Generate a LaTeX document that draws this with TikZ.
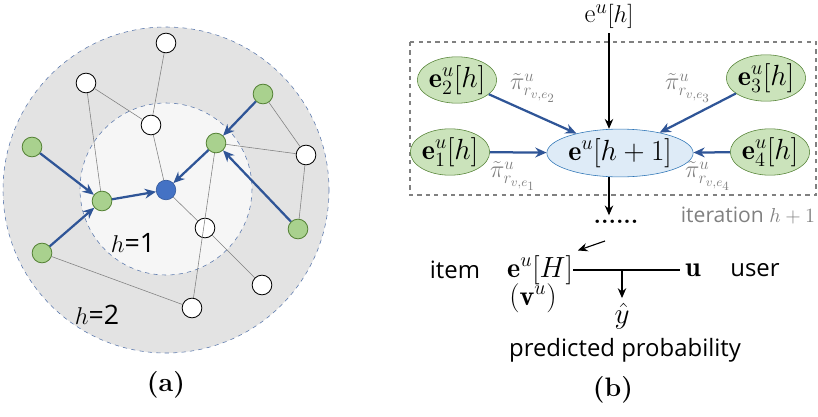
\documentclass[tikz,border=0pt]{standalone}
\usepackage{fontspec}
\usepackage{amsmath}
\newfontfamily\osans{Open Sans}
\usetikzlibrary{shapes.geometric,arrows.meta}
\definecolor{leafgreen}{RGB}{169,209,142}
\definecolor{leafedge}{RGB}{84,130,53}
\definecolor{hopblue}{RGB}{47,85,151}
\definecolor{rootblue}{RGB}{68,114,196}
\definecolor{centfill}{RGB}{222,235,247}
\definecolor{centedge}{RGB}{46,117,182}
\tikzset{
	ent/.style={circle,draw=black,fill=white,minimum size=14pt,inner sep=0pt,semithick},
	seed/.style={circle,draw=leafedge,fill=leafgreen,minimum size=14pt,inner sep=0pt,semithick},
	hop/.style={draw=hopblue,line width=1.6pt,-{Stealth[length=8pt,width=7pt]}},
	kg/.style={draw=gray,thin},
	emb/.style={ellipse,draw=leafedge,fill=leafgreen!60,minimum width=50pt,minimum height=33pt,inner sep=0pt,font=\fontsize{20}{20}\selectfont},
	wgt/.style={text=gray,font=\fontsize{18}{18}\selectfont},
	flow/.style={draw=black,thick,-{Stealth[length=7pt,width=6pt]}}
}
\begin{document}
\begin{tikzpicture}[x=0.025cm,y=-0.025cm]
		\useasboundingbox (0,0) rectangle (818,416);
		% Draw the two hop regions
		\draw[dashed,draw=hopblue!80,fill=gray!22] (166,190) circle (163);
		\draw[dashed,draw=hopblue!80,fill=gray!7] (166,189) circle (86);

		% entities
		\node[ent] (n1) at (166,43) {};
		\node[ent] (n2) at (86,83) {};
		\node[ent] (n3) at (151,125) {};
		\node[ent] (n4) at (306,155) {};
		\node[ent] (n5) at (205,228) {};
		\node[ent] (n6) at (262,285) {};
		\node[ent] (n7) at (192,308) {};
		\node[seed] (g1) at (263,94) {};
		\node[seed] (g2) at (216,143) {};
		\node[seed] (g3) at (32,147) {};
		\node[seed] (g4) at (102,201) {};
		\node[seed] (g5) at (42,253) {};
		\node[seed] (g6) at (298,229) {};
		\node[circle,draw=hopblue,fill=rootblue,minimum size=14pt,inner sep=0pt] (v) at (166,190) {};

		% plain KG edges
		\draw[kg] (n1) -- (n3);
		\draw[kg] (n2) -- (n3);
		\draw[kg] (n2) -- (g4);
		\draw[kg] (n3) -- (v);
		\draw[kg] (g1) -- (n4);
		\draw[kg] (g2) -- (n4);
		\draw[kg] (n4) -- (g6);
		\draw[kg] (g2) -- (n7);
		\draw[kg] (v) -- (n5);
		\draw[kg] (n5) -- (n6);
		\draw[kg] (g5) -- (n7);

		% propagation
		\draw[hop] (g3) -- (g4);
		\draw[hop] (g5) -- (g4);
		\draw[hop] (g4) -- (v);
		\draw[hop] (g1) -- (g2);
		\draw[hop] (g6) -- (g2);
		\draw[hop] (g2) -- (v);

		\node[font=\fontsize{19}{19}\selectfont] (h1) at (133,243) {$h$\osans=1};
		\node[font=\fontsize{19}{19}\selectfont] (h2) at (97,315) {$h$\osans=2};
		\node[font=\fontsize{19}{19}\selectfont] (capa) at (166,385) {\textbf{(a)}};

		% -----------------------------------------------------
		\draw[dashed,gray,thick] (410,42) rectangle (816,195);
		\node[font=\fontsize{19}{19}\selectfont] (top) at (609,16) {$\mathrm{e}^u[h]$};
		\node[ellipse,draw=centedge,fill=centfill,minimum width=74pt,minimum height=34pt,inner sep=0pt,font=\fontsize{20}{20}\selectfont] (c) at (620,153) {$\mathbf{e}^u[h+1]$};
		\node[emb] (e2) at (457,80) {$\mathbf{e}_2^u[h]$};
		\node[emb] (e3) at (766,78) {$\mathbf{e}_3^u[h]$};
		\node[emb] (e1) at (450,152) {$\mathbf{e}_1^u[h]$};
		\node[emb] (e4) at (770,152) {$\mathbf{e}_4^u[h]$};

		\draw[flow] (top) -- (c.north -| top);
		\draw[hop] (e2) -- (c);
		\draw[hop] (e3) -- (c);
		\draw[hop] (e1) -- (c);
		\draw[hop] (e4) -- (c);
		\node[wgt] (w2) at (533,88) {$\tilde{\pi}^u_{r_{v,e_2}}$};
		\node[wgt] (w3) at (688,88) {$\tilde{\pi}^u_{r_{v,e_3}}$};
		\node[wgt] (w1) at (513,176) {$\tilde{\pi}^u_{r_{v,e_1}}$};
		\node[wgt] (w4) at (708,176) {$\tilde{\pi}^u_{r_{v,e_4}}$};
		\node[text=gray,font=\osans\fontsize{15}{15}\selectfont] (it) at (748,216) {iteration $h+1$};

		\node[font=\fontsize{17}{17}\selectfont] (dots) at (616,222) {\textbf{......}};
		\draw[flow] (c.south -| top) -- (dots.north -| top);
		\node[font=\fontsize{20}{20}\selectfont] (eH) at (540,270) {$\mathbf{e}^u[H]$};
		\node[font=\fontsize{20}{20}\selectfont] (vu) at (533,298) {$(\mathbf{v}^u)$};
		\node[font=\osans\fontsize{17}{17}\selectfont] (item) at (455,270) {item};
		\node[font=\fontsize{20}{20}\selectfont] (u) at (693,270) {$\mathbf{u}$};
		\node[font=\osans\fontsize{17}{17}\selectfont] (user) at (755,270) {user};
		\coordinate (tail) at (605,241);
		\draw[flow] (tail) -- (eH.north east);
		\coordinate (mid) at (622,270);
		\draw[thick] (573,270) -- (u.west);
		\node[font=\fontsize{20}{20}\selectfont] (yh) at (622,316) {$\hat{y}$};
		\draw[flow] (mid) -- (yh.north);
		\node[font=\osans\fontsize{17}{17}\selectfont] (pp) at (625,350) {predicted probability};
		\node[font=\fontsize{19}{19}\selectfont] (capb) at (613,390) {\textbf{(b)}};
\end{tikzpicture}
\end{document}
